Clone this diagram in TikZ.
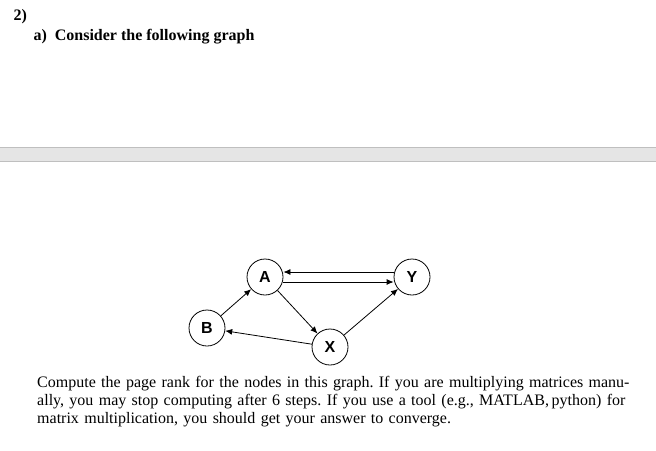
\documentclass[tikz,border=0pt]{standalone}
\usepackage{fontspec}
\setmainfont{Liberation Serif}
\setsansfont{Liberation Sans}
\usetikzlibrary{arrows.meta}
\begin{document}
\frenchspacing
\begin{tikzpicture}[x=1pt,y=-1pt,
  vtx/.style={circle,draw,line width=0.8pt,minimum size=36pt,inner sep=0pt,font=\sffamily\bfseries\fontsize{16}{16}\selectfont},
  ed/.style={-{Latex[length=7pt,width=6pt]},line width=0.8pt}]
\useasboundingbox (0,0) rectangle (656,450);
\fill[gray!20] (0,147) rectangle (656,161);
\draw[gray!50,line width=0.8pt] (0,147) -- (656,147) (0,161) -- (656,161);
\node[anchor=base west,font=\bfseries\fontsize{16}{18}\selectfont] (h1) at (10,20) {2)};
\node[anchor=base west,font=\bfseries\fontsize{16}{18}\selectfont] (h2) at (30,40) {a)\hspace{8pt}Consider the following graph};
\node[vtx] (A) at (265,277) {A};
\node[vtx] (Y) at (412,277) {Y};
\node[vtx] (B) at (207,328) {B};
\node[vtx] (X) at (330,347) {X};
\draw[ed] ([yshift=5pt]Y.west) -- ([yshift=5pt]A.east);
\draw[ed] ([yshift=-5pt]A.east) -- ([yshift=-5pt]Y.west);
\draw[ed] (B) -- (A);
\draw[ed] (A) -- (X);
\draw[ed] (X) -- (Y);
\draw[ed] (X) -- (B);
\node[anchor=north west,inner sep=0pt,text width=600pt,align=left,font=\fontsize{16}{18}\selectfont] (t) at (37,376)
{Compute the page rank for the nodes in this graph. If you are multiplying matrices manually, you may stop computing after 6 steps. If you use a tool (e.g., MATLAB,\,python) for matrix multiplication, you should get your answer to converge.};
\end{tikzpicture}
\end{document}
